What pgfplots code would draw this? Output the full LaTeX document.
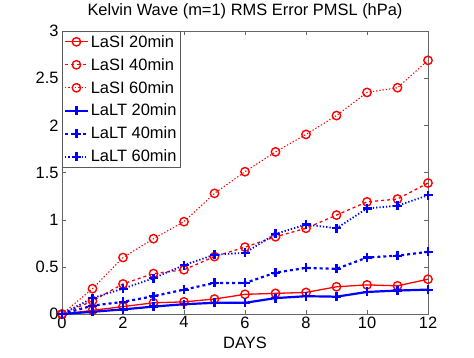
\documentclass[border=0pt]{standalone}
\usepackage{fontspec}
\setmainfont{Liberation Sans}
\usepackage{pgfplots}
\pgfplotsset{compat=1.18}
\definecolor{mred}{rgb}{1,0,0}
\definecolor{mblue}{rgb}{0,0,1}
\begin{document}
\begin{tikzpicture}
\begin{axis}[
  scale only axis, width=366bp, height=283bp,
  xmin=0, xmax=12, ymin=0, ymax=3,
  xtick={0,2,...,12}, ytick={0,0.5,...,3},
  yticklabels={0,0.5,1,1.5,2,2.5,3},
  tick align=inside, tick pos=both,
  major tick length=4bp,
  axis line style={gray!80!black, line width=0.8pt},
  every tick/.style={gray!80!black},
  /pgf/number format/assume math mode=true,
  font=\fontsize{16.5}{19}\selectfont,
  ticklabel style={font=\fontsize{16.5}{19}\selectfont},
  xticklabel style={yshift=1bp},
  title={Kelvin Wave (m=1) RMS Error PMSL (hPa)},
  title style={at={(0.5,1)}, anchor=south, yshift=3bp, font=\fontsize{16.5}{19}\selectfont},
  xlabel={DAYS},
  xlabel style={yshift=-2bp},
  legend cell align=left,
  legend style={at={(0,1)}, anchor=north west, draw=gray!70!black, line width=0.6pt, inner sep=2pt, row sep=5.6bp, outer sep=0pt, font=\fontsize{16.5}{19}\selectfont, legend image code/.code={\draw[mark repeat=2,mark phase=2] plot coordinates {(0cm,0cm) (0.4cm,0cm) (0.8cm,0cm)};}},
  every axis plot/.append style={line width=1.3pt},
]
\addplot[mred, solid, mark=o, mark size=4.2bp, mark options={solid, line width=1.4pt}] coordinates {
(0,0) (1,0.04) (2,0.08) (3,0.12) (4,0.13) (5,0.16) (6,0.21) (7,0.22) (8,0.23) (9,0.29) (10,0.31) (11,0.30) (12,0.37)};
\addlegendentry{LaSI 20min}
\addplot[mred, dashed, mark=o, mark size=4.2bp, mark options={solid, line width=1.4pt}] coordinates {
(0,0) (1,0.14) (2,0.32) (3,0.43) (4,0.47) (5,0.61) (6,0.71) (7,0.82) (8,0.91) (9,1.05) (10,1.19) (11,1.22) (12,1.39)};
\addlegendentry{LaSI 40min}
\addplot[mred, dotted, line width=1.1pt, mark=o, mark size=4.2bp, mark options={solid, line width=1.4pt}] coordinates {
(0,0) (1,0.27) (2,0.60) (3,0.80) (4,0.98) (5,1.28) (6,1.51) (7,1.72) (8,1.905) (9,2.105) (10,2.35) (11,2.40) (12,2.69)};
\addlegendentry{LaSI 60min}
\addplot[mblue, solid, line width=2.2pt, mark=+, mark size=4.5bp, mark options={solid, line width=2.2pt}] coordinates {
(0,0) (1,0.025) (2,0.05) (3,0.08) (4,0.105) (5,0.12) (6,0.12) (7,0.17) (8,0.19) (9,0.185) (10,0.235) (11,0.25) (12,0.26)};
\addlegendentry{LaLT 20min}
\addplot[mblue, dashed, line width=2.2pt, mark=+, mark size=4.5bp, mark options={solid, line width=2.2pt}] coordinates {
(0,0) (1,0.09) (2,0.13) (3,0.19) (4,0.26) (5,0.33) (6,0.33) (7,0.44) (8,0.49) (9,0.48) (10,0.60) (11,0.62) (12,0.66)};
\addlegendentry{LaLT 40min}
\addplot[mblue, dotted, line width=1.8pt, mark=+, mark size=4.5bp, mark options={solid, line width=2.2pt}] coordinates {
(0,0) (1,0.17) (2,0.27) (3,0.38) (4,0.52) (5,0.63) (6,0.65) (7,0.85) (8,0.95) (9,0.91) (10,1.12) (11,1.15) (12,1.26)};
\addlegendentry{LaLT 60min}
\end{axis}
\path (current axis.south west) ++(-62bp,-43bp);
\path (current axis.north east) ++(46bp,28bp);
\end{tikzpicture}
\end{document}
